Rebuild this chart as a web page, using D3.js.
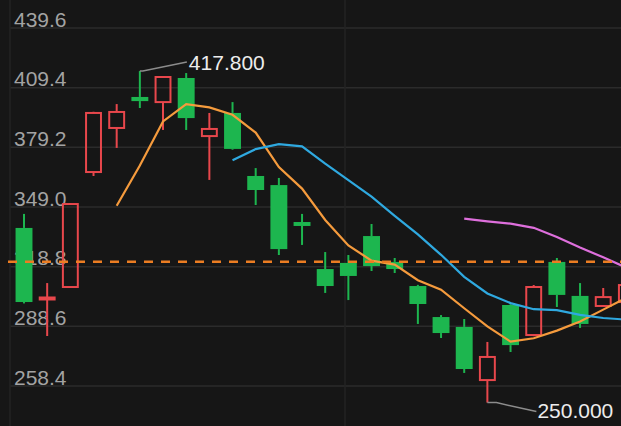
<!DOCTYPE html>
<html>
<head>
<meta charset="utf-8">
<script src="https://cdn.jsdelivr.net/npm/d3@7"></script>
<style>
  html, body { margin: 0; padding: 0; background: #161616; overflow: hidden; }
  svg { display: block; }
</style>
</head>
<body>
<svg id="chart" width="621" height="426"></svg>
<script>
// ---- data ----
const days  = d3.range(1, 28).map(String);
const open  = [338.4, 302.5, 308.5, 366.7, 389.0, 404.7, 402.1, 414.3, 384.9, 396.6, 364.7, 360.1, 341.4, 317.6, 320.7, 334.3, 321.2, 309.0, 293.3, 288.3, 261.4, 299.4, 284.2, 321.2, 304.0, 298.9, 300.9];
const close = [300.9, 303.2, 350.5, 396.6, 397.1, 402.6, 414.8, 394.0, 388.5, 378.4, 357.6, 327.7, 339.4, 309.0, 314.1, 319.1, 317.6, 299.9, 285.2, 267.0, 273.1, 279.1, 308.5, 304.5, 289.8, 303.4, 309.5];
const high  = [345.5, 310.5, 351.0, 397.2, 401.1, 417.8, 415.0, 416.8, 396.6, 402.1, 368.7, 363.7, 345.5, 326.2, 324.7, 340.4, 323.2, 309.6, 294.3, 292.3, 280.7, 299.8, 309.5, 323.2, 310.5, 308.0, 312.0];
const low   = [300.2, 283.7, 308.0, 364.7, 378.9, 399.1, 388.0, 388.0, 362.7, 378.0, 350.0, 324.7, 329.8, 305.5, 301.9, 316.6, 315.6, 289.8, 282.7, 265.0, 250.0, 275.6, 283.6, 298.4, 287.8, 298.9, 300.0];
const yTicks = [228.2, 258.4, 288.6, 318.8, 349.0, 379.2, 409.4, 439.6];
const maPeriods = [5, 10, 20];
const maColors  = ["#f59b3d", "#2fa9e0", "#de6fdc"];
const priceLine = 321.3;

// ---- layout ----
const W = 621, H = 426;
const svg = d3.select("#chart");
const bg = "#161616", up = "#e8474c", down = "#1db64f";

const x = d3.scaleBand().domain(days).range([9.3, 9.3 + 23.4 * days.length]).padding(0.27);
const cx = d => x(d) + x.bandwidth() / 2;
const y = d3.scaleLinear().domain([258.4, 439.6]).range([386, 28]);

const candles = days.map((d, i) => ({ d, o: open[i], c: close[i], h: high[i], l: low[i] }));

svg.append("rect").attr("width", W).attr("height", H).attr("fill", bg);

// grid
const grid = svg.append("g");
grid.selectAll("line.h").data(yTicks).join("line")
  .attr("x1", 10).attr("x2", W).attr("y1", d => y(d)).attr("y2", d => y(d))
  .attr("stroke", "#2b2b2b").attr("stroke-width", 1.5);
grid.selectAll("line.v").data([10, 345]).join("line")
  .attr("x1", d => d).attr("x2", d => d).attr("y1", 0).attr("y2", H)
  .attr("stroke", "#232323").attr("stroke-width", 1.5);

const font = "Liberation Sans, Arial, Helvetica, sans-serif";

// y axis labels (inside, under candles)
const yAxis = d3.axisRight(y).tickValues(yTicks).tickFormat(d3.format(".1f")).tickSize(0);
const ag = svg.append("g").attr("transform", "translate(14,0)").call(yAxis);
ag.select(".domain").remove();
ag.selectAll("text")
  .attr("x", 0).attr("dy", "-2px").attr("text-anchor", "start")
  .attr("fill", "#a3a3a3").attr("font-size", "21px")
  .attr("font-family", font);

// candles
const cg = svg.append("g");
const bw = x.bandwidth();
candles.forEach(k => {
  const isUp = k.c >= k.o;
  const top = Math.max(k.o, k.c), bot = Math.min(k.o, k.c);
  const col = isUp ? up : down;
  const xc = cx(k.d);
  if (k.h > top) cg.append("line").attr("x1", xc).attr("x2", xc).attr("y1", y(k.h)).attr("y2", y(top)).attr("stroke", col).attr("stroke-width", 2);
  if (k.l < bot) cg.append("line").attr("x1", xc).attr("x2", xc).attr("y1", y(bot)).attr("y2", y(k.l)).attr("stroke", col).attr("stroke-width", 2);
  const hgt = Math.max(y(bot) - y(top), 2);
  if (isUp) {
    cg.append("rect").attr("x", x(k.d) + 1).attr("y", y(top)).attr("width", bw - 2).attr("height", hgt)
      .attr("fill", "none").attr("stroke", col).attr("stroke-width", 2);
  } else {
    cg.append("rect").attr("x", x(k.d)).attr("y", y(top)).attr("width", bw).attr("height", hgt).attr("fill", col);
  }
});

// moving averages computed from closes
maPeriods.forEach((p, j) => {
  const pts = [];
  for (let i = p - 1; i < close.length; i++) {
    pts.push({ d: days[i], v: d3.mean(close.slice(i - p + 1, i + 1)) });
  }
  svg.append("path").datum(pts)
    .attr("d", d3.line().x(q => cx(q.d)).y(q => y(q.v)))
    .attr("fill", "none").attr("stroke", maColors[j]).attr("stroke-width", 2.2);
});

// current price dashed line
svg.append("line").attr("x1", 8).attr("x2", W).attr("y1", y(priceLine)).attr("y2", y(priceLine))
  .attr("stroke", "#ec7d22").attr("stroke-width", 2.5).attr("stroke-dasharray", "9,8");

// max / min annotations
const iMax = d3.maxIndex(high), iMin = d3.minIndex(low);
const mx = cx(days[iMax]), my = y(high[iMax]);
svg.append("polyline").attr("points", [[mx, my], [mx + 3, my], [mx + 47, my - 9]].join(" "))
  .attr("fill", "none").attr("stroke", "#8c8c8c").attr("stroke-width", 1.5);
svg.append("text").attr("x", mx + 49).attr("y", my - 1).text(d3.format(".3f")(high[iMax]))
  .attr("fill", "#ececec").attr("font-size", "21px").attr("font-family", font);
const nx = cx(days[iMin]), ny = y(low[iMin]);
svg.append("polyline").attr("points", [[nx, ny], [nx + 9, ny], [nx + 49, ny + 9]].join(" "))
  .attr("fill", "none").attr("stroke", "#8c8c8c").attr("stroke-width", 1.5);
svg.append("text").attr("x", nx + 50).attr("y", ny + 15).text(d3.format(".3f")(low[iMin]))
  .attr("fill", "#ececec").attr("font-size", "21px").attr("font-family", font);
</script>
</body>
</html>
